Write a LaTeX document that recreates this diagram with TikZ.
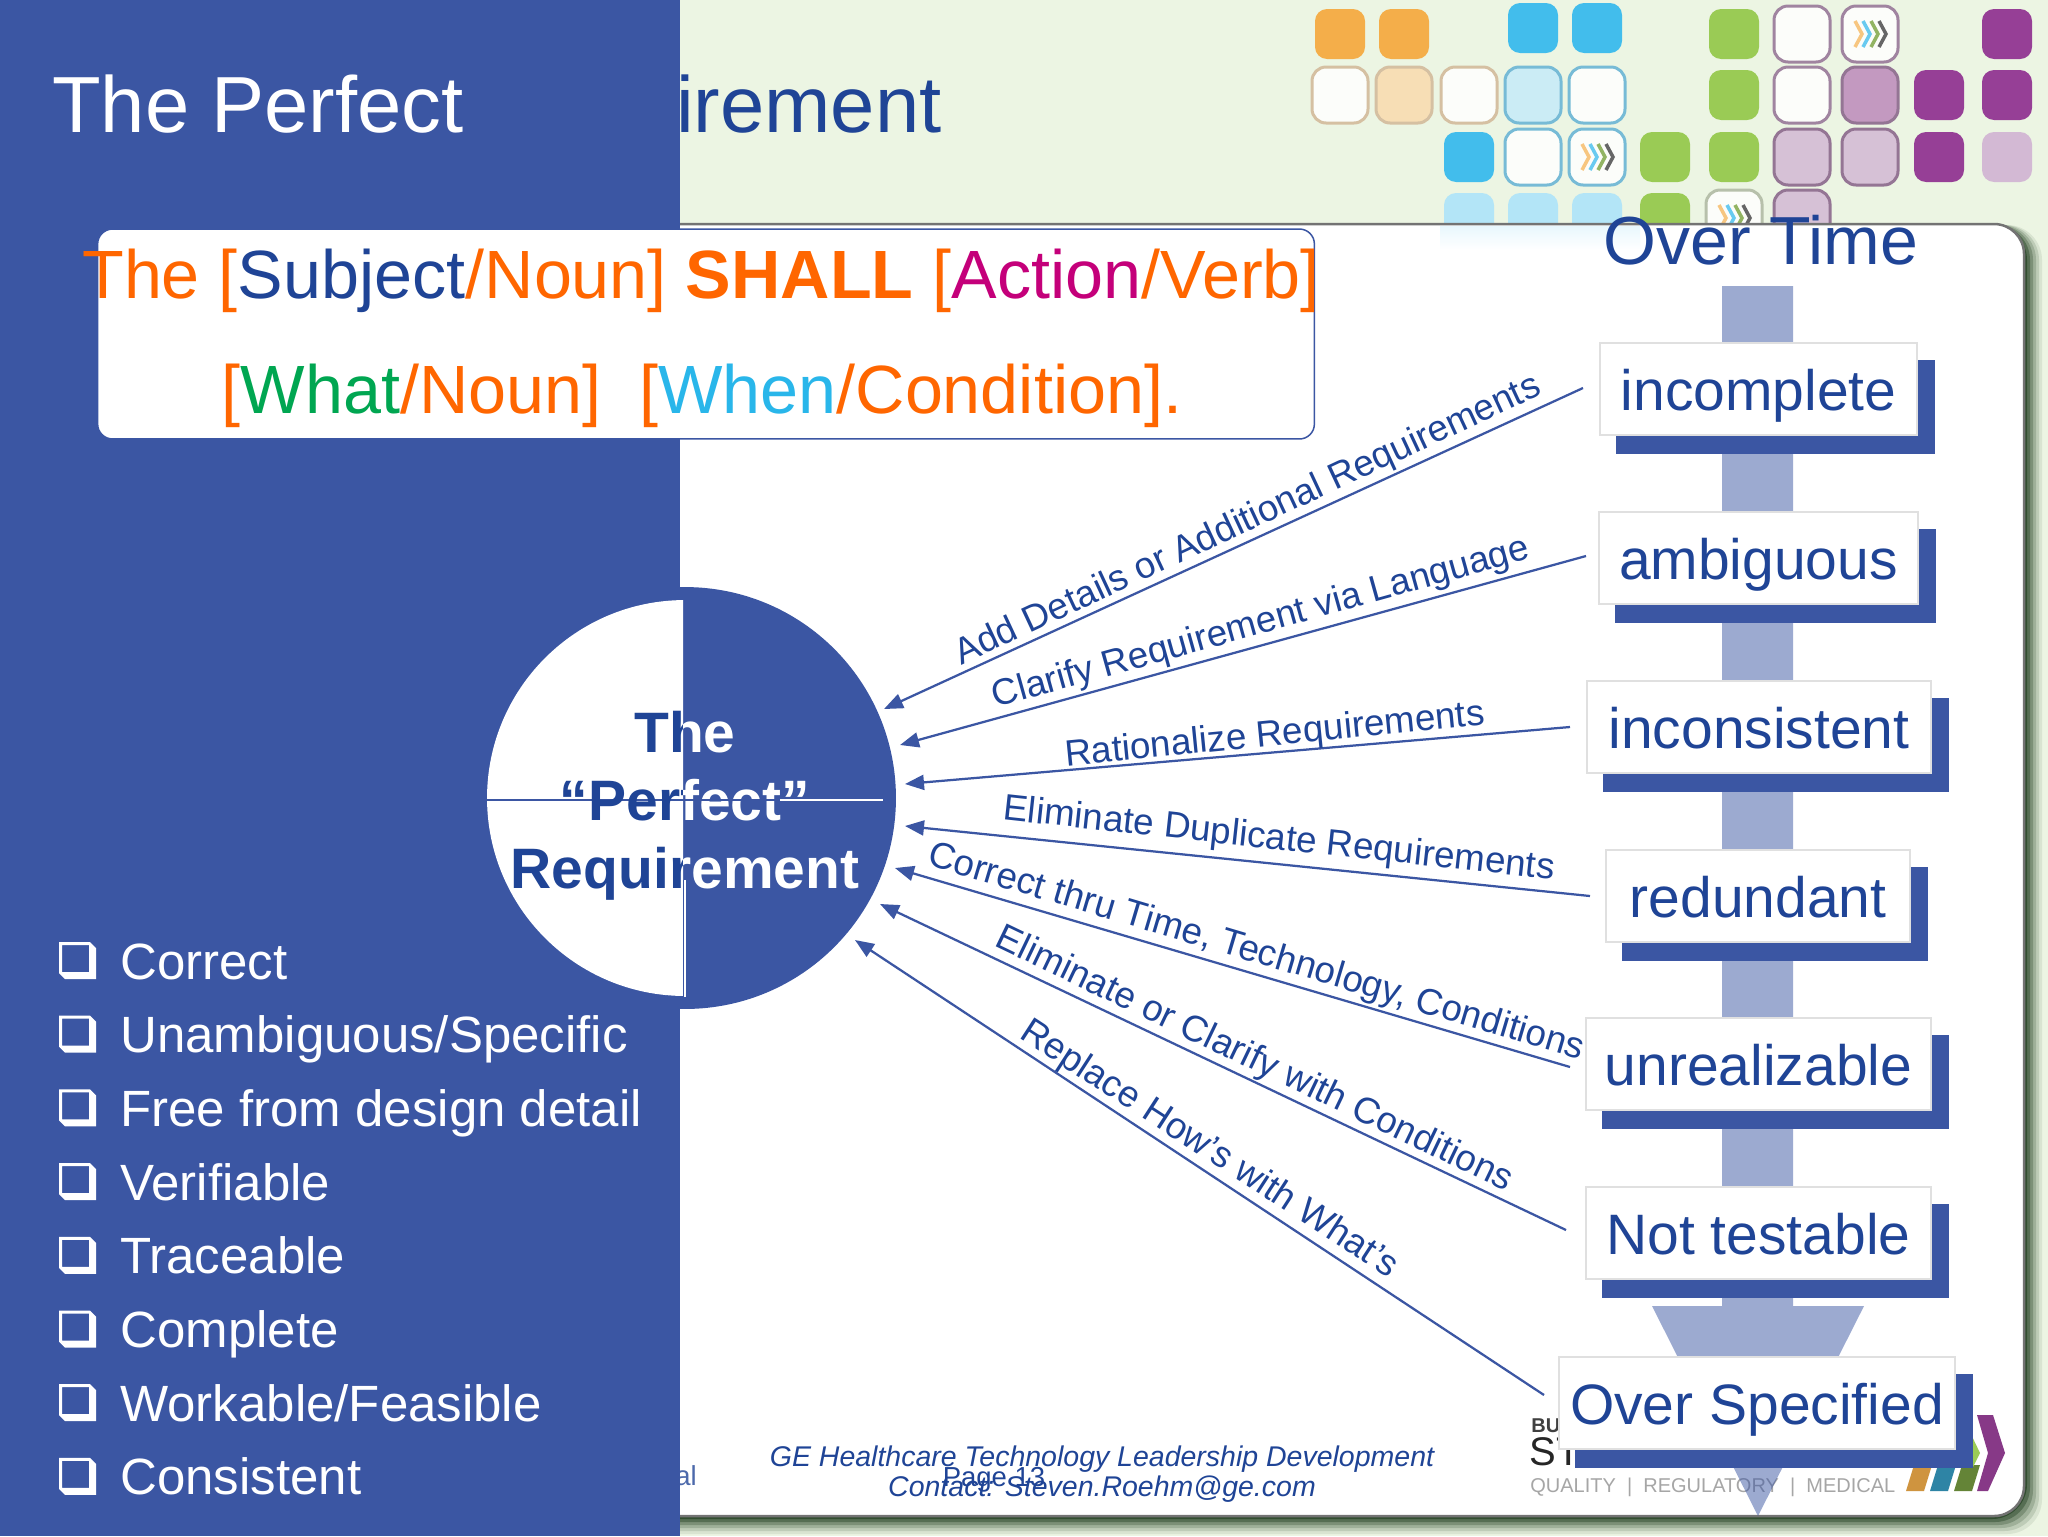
\documentclass[tikz,border=0pt]{standalone}
\usepackage{fontspec}
\setmainfont{Liberation Sans}
\usetikzlibrary{arrows.meta}
\definecolor{panel}{HTML}{3B56A3}
\definecolor{ink}{HTML}{1F4496}
\definecolor{bgpale}{HTML}{ECF5E3}
\definecolor{ora}{HTML}{FF6600}
\definecolor{tor}{HTML}{F4AE4A}
\definecolor{tbl}{HTML}{42BDEC}
\definecolor{tgr}{HTML}{9ACB55}
\definecolor{tpu}{HTML}{963F96}
\definecolor{tli}{HTML}{BC8ABB}
\definecolor{tll}{HTML}{D3B9D4}
\definecolor{mag}{HTML}{C4007A}
\definecolor{grn}{HTML}{00A651}
\definecolor{cya}{HTML}{29B6EA}
\newcommand{\fz}[1]{\pgfmathsetmacro\tmpfz{#1*0.5691}\fontsize{\tmpfz pt}{\tmpfz pt}\selectfont}
\tikzset{
  txt/.style={inner sep=0pt,anchor=base},
  txtl/.style={inner sep=0pt,anchor=base west},
  tile/.style={rounded corners=0.24cm,minimum size=1cm,inner sep=0pt},
  otile/.style={rounded corners=0.28cm,minimum size=1.12cm,inner sep=0pt,line width=0.06cm,fill=white,fill opacity=.85},
  arr/.style={draw=panel,line width=0.045cm,-{Triangle[length=0.38cm,width=0.3cm]}},
  boxlab/.style={draw=black!12,line width=0.04cm,fill=white,inner xsep=0pt,inner ysep=0pt,text height=1.34cm,text depth=0.50cm,text=ink,font=\fz{57}},
  arrlab/.style={inner sep=0pt,text=ink,font=\fz{36.8}},
  shad/.style={fill=panel},
  ctr/.style={txt,font=\bfseries\fz{57}},
  list/.style={txtl,text=white,font=\fz{51}},
  foot/.style={txt,text=ink,font=\itshape\fz{28.5}}
}
\begin{document}
\begin{tikzpicture}[x=0.02cm,y=-0.02cm]
\useasboundingbox (0,0) rectangle (2048,1536);
% page background
\fill[bgpale] (0,0) rectangle (2048,1536);
% tiles
\foreach \x/\y in {1340/34,1404/34}{\node[tile,fill=tor] (t\x\y) at (\x,\y) {};}
\foreach \x/\y in {1533/28,1597/28,1469/157}{\node[tile,fill=tbl] (t\x\y) at (\x,\y) {};}
\foreach \x/\y in {1734/34,1734/95,1665/157,1734/157,1665/218}{\node[tile,fill=tgr] (t\x\y) at (\x,\y) {};}
\foreach \x/\y in {2007/34,1939/95,2007/95,1939/157}{\node[tile,fill=tpu] (t\x\y) at (\x,\y) {};}
\node[tile,fill=tll] (t2007157) at (2007,157) {};
\foreach \x/\y in {1340/95,1469/95}{\node[otile,draw=tor!50!gray!60] (o\x\y) at (\x,\y) {};}
\node[otile,draw=tor!50!gray!60,fill=tor!45] (o140495) at (1404,95) {};
\node[otile,draw=tbl!70!gray!80,fill=tbl!30] (o153395) at (1533,95) {};
\foreach \x/\y in {1597/95,1533/157,1597/157}{\node[otile,draw=tbl!70!gray!80] (o\x\y) at (\x,\y) {};}
\foreach \x/\y in {1802/34,1870/34,1802/95}{\node[otile,draw=tpu!40!gray!80] (o\x\y) at (\x,\y) {};}
\node[otile,draw=tgr!30!gray!60] (o1734218) at (1734,218) {};
\node[otile,draw=tpu!40!gray!90,fill=tli] (o187095) at (1870,95) {};
\foreach \x/\y in {1802/157,1870/157,1802/218}{\node[otile,draw=tpu!40!gray!90,fill=tll] (o\x\y) at (\x,\y) {};}
\foreach \x/\y in {1469/218,1533/218,1597/218}{\node[tile,fill=tbl!40] (f\x\y) at (\x,\y) {};}
% chevrons inside tiles
\foreach \cx/\cy in {1870/34,1597/157,1734/218}{
  \foreach \dx/\cc in {-12/tor!70,-4/tbl!80,4/tgr!70!gray,12/black!60}{
    \draw[\cc,line width=0.07cm] (\cx+\dx-3,\cy-13) -- (\cx+\dx+4,\cy) -- (\cx+\dx-3,\cy+13);
  }
}
% slide shadow
\foreach \o/\a in {18/.08,15/.12,12/.16,9/.22,6/.3,3/.4}{
  \fill[black!75!green!50!black,opacity=\a,rounded corners=0.7cm] (600,225) rectangle (2024+\o,1516+\o);
}
% slide
\draw[draw=black!55,line width=0.05cm,fill=white,rounded corners=0.6cm] (400,224) rectangle (2024,1516);
\shade[top color=tbl!12,bottom color=white] (1440,226) rectangle (1640,250);
% title underneath the panel
\node[txtl,text=ink,font=\fz{79.6}] (titleb) at (52,132) {The Perfect Requirement};
% footer
\node[inner sep=0pt,anchor=base east,text=ink!80,font=\fz{27.5}] (conf) at (697,1485) {al};
\node[foot] (ge) at (1102,1466) {GE Healthcare Technology Leadership Development};
\node[foot] (contact) at (1102,1496) {Contact: Steven.Roehm@ge.com};
\node[txt,text=ink,font=\fz{27.5}] (page) at (994,1486) {Page 13};
% logo
\node[txtl,text=black!75,font=\bfseries\fz{20}] (lg1) at (1531,1432) {BU};
\node[txtl,text=black!85,font=\fz{40}] (lg2) at (1529,1465) {ST};
\node[txtl,text=black!35,font=\fz{20}] (lg3) at (1530,1492) {QUALITY\ \ |\ \ REGULATORY\ \ |\ \ MEDICAL};
\fill[tor!85!black] (1914,1465) -- (1932,1465) -- (1924,1491) -- (1906,1491) -- cycle;
\fill[tbl!70!black] (1938,1465) -- (1956,1465) -- (1948,1491) -- (1930,1491) -- cycle;
\fill[tgr!65!black] (1962,1465) -- (1980,1465) -- (1972,1491) -- (1954,1491) -- cycle;
\fill[tgr] (1968,1428) -- (1980,1453) -- (1973,1467) -- (1960,1467) -- (1960,1428) -- cycle;
\fill[tpu!90!black] (1977,1415) -- (1993,1415) -- (2005,1453) -- (1988,1491) -- (1977,1491) -- (1988,1453) -- cycle;
% timeline arrow
\fill[panel,opacity=.5] (1722,286) -- (1793,286) -- (1793,1306) -- (1864,1306) -- (1758,1516) -- (1652,1306) -- (1722,1306) -- cycle;
\node[txt,text=ink,font=\fz{68}] (overtime) at (1761,264) {Over Time};
% offset shadows
\foreach \name/\l/\r/\t in {a/1600/1917/343,b/1599/1918/512,c/1587/1931/681,d/1606/1910/850,e/1586/1931/1018,f/1586/1931/1187,g/1559/1955/1357}{
  \fill[shad] (\l+16,\t+17) rectangle (\r+18,\t+111);
}
% problem boxes
\node[boxlab,minimum width=6.34cm] (bA) at (1758.5,389) {incomplete};
\node[boxlab,minimum width=6.38cm] (bB) at (1758.5,558) {ambiguous};
\node[boxlab,minimum width=6.88cm] (bC) at (1759,727) {inconsistent};
\node[boxlab,minimum width=6.08cm] (bD) at (1758,896) {redundant};
\node[boxlab,minimum width=6.90cm] (bE) at (1758.5,1064) {unrealizable};
\node[boxlab,minimum width=6.90cm] (bF) at (1758.5,1233) {Not testable};
\node[boxlab,minimum width=7.92cm] (bG) at (1757,1403) {Over Specified};
% left panel
\fill[panel] (0,0) rectangle (680,1536);
\node[txtl,text=white,font=\fz{79.6}] (titlew) at (52,132) {The Perfect};
% statement box
\node[draw=panel,line width=0.03cm,fill=white,rounded corners=0.3cm,minimum width=24.34cm,minimum height=4.2cm,inner sep=0pt] (sbox) at (706,334) {};
\node[txt,font=\fz{68.3}] (s1) at (701,298) {\textcolor{ora}{The [}\textcolor{ink}{Subject}\textcolor{ora}{/Noun] \textbf{SHALL} [}\textcolor{mag}{Action}\textcolor{ora}{/Verb]}};
\node[txt,font=\fz{68.3}] (s2) at (702,413) {\textcolor{ora}{[}\textcolor{grn}{What}\textcolor{ora}{/Noun]~~[}\textcolor{cya}{When}\textcolor{ora}{/Condition].}};
% circle
\node[circle,fill=panel,minimum size=8.44cm,inner sep=0pt] (circ) at (685,798) {};
\begin{scope}
  \clip (480,590) rectangle (683,1005);
  \fill[white] (685,798) circle[radius=3.96cm];
\end{scope}
\draw[white,line width=0.03cm] (685,880) -- (685,997);
\draw[panel,line width=0.03cm] (683.5,880) -- (683.5,997);
\draw[panel,line width=0.03cm] (487,800) -- (683,800);
\draw[white,line width=0.03cm] (780,800) -- (883,800);
\node[ctr,text=ink] (c1) at (685,752) {The};
\node[ctr,text=ink] (c2) at (685,820) {“Perfect”};
\node[ctr,text=ink] (c3) at (685,888) {Requirement};
\begin{scope}
  \clip (683,600) rectangle (900,1000);
  \node[ctr,text=white] (c1w) at (685,752) {The};
  \node[ctr,text=white] (c2w) at (685,820) {“Perfect”};
  \node[ctr,text=white] (c3w) at (685,888) {Requirement};
\end{scope}
\draw[panel,line width=0.03cm] (683,800) -- (780,800);
% check list
\foreach \n/\t [count=\i from 0] in {a/Correct,b/{Unambiguous/Specific},c/Free from design detail,d/Verifiable,e/Traceable,f/Complete,g/{Workable/Feasible},h/Consistent}{
  \pgfmathsetmacro\yy{979+73.7*\i}
  \fill[white,even odd rule] (59,\yy-37) -- (90,\yy-37) -- (96,\yy-31) -- (96,\yy) -- (65,\yy) -- (59,\yy-6) -- cycle (62,\yy-34) rectangle (89,\yy-7);
  \node[list] (l\n) at (120,\yy) {\t};
}
% connector ends
\coordinate (s1a) at (1583,388); \coordinate (e1a) at (884,709);
\coordinate (s2a) at (1586,556); \coordinate (e2a) at (900,745);
\coordinate (s3a) at (1570,727); \coordinate (e3a) at (905,784);
\coordinate (s4a) at (1590,896); \coordinate (e4a) at (905,826);
\coordinate (s5a) at (1570,1067); \coordinate (e5a) at (895,868);
\coordinate (s6a) at (1566,1230); \coordinate (e6a) at (880,904);
\coordinate (s7a) at (1544,1395); \coordinate (e7a) at (855,940);
\draw[arr] (s1a) -- (e1a);
\draw[arr] (s2a) -- (e2a);
\draw[arr] (s3a) -- (e3a);
\draw[arr] (s4a) -- (e4a);
\draw[arr] (s5a) -- (e5a);
\draw[arr] (s6a) -- (e6a);
\draw[arr] (s7a) -- (e7a);
\node[arrlab,rotate=25.0] (a1) at (1248,521) {Add Details or Additional Requirements};
\node[arrlab,rotate=15.6] (a2) at (1261,624) {Clarify Requirement via Language};
\node[arrlab,rotate=5.6] (a3) at (1275,736) {Rationalize Requirements};
\node[arrlab,rotate=-6.2] (a4) at (1279,840) {Eliminate Duplicate Requirements};
\node[arrlab,rotate=-16.6] (a5) at (1256,953) {Correct thru Time, Technology, Conditions};
\node[arrlab,rotate=-25.6] (a6) at (1254,1060) {Eliminate or Clarify with Conditions};
\node[arrlab,rotate=-33] (a7) at (1209,1150) {Replace How’s with What’s};
\end{tikzpicture}
\end{document}
